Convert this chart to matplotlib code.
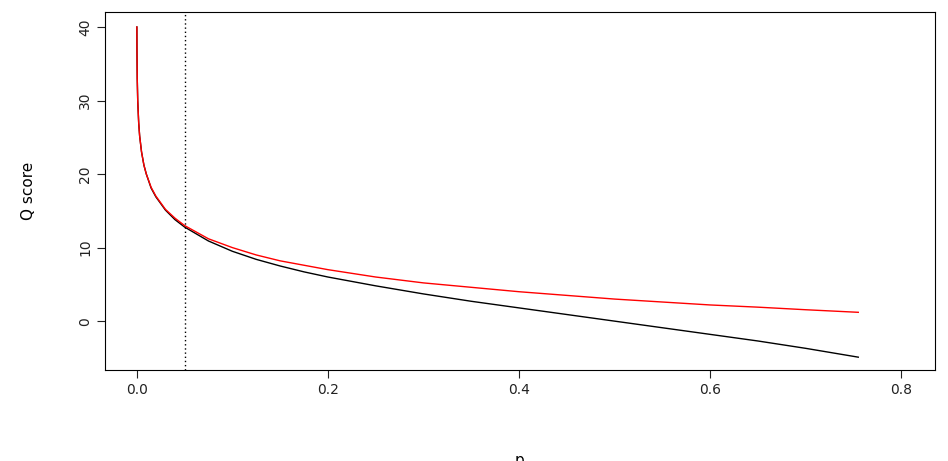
import matplotlib
matplotlib.use("Agg")
import matplotlib.pyplot as plt

p = [0.0001, 0.0002, 0.0005, 0.001, 0.002, 0.003, 0.005, 0.0075, 0.01, 0.015, 0.02, 0.03, 0.04, 0.05, 0.075,
     0.1, 0.125, 0.15, 0.175, 0.2, 0.25, 0.3, 0.35, 0.4, 0.45, 0.5, 0.55, 0.6, 0.65, 0.7, 0.755]
q_red = [40, 37, 33, 30, 27, 25.2, 23, 21.2, 20, 18.2, 17, 15.2, 14, 13, 11.2,
         10, 9.0, 8.2, 7.6, 7, 6, 5.2, 4.6, 4, 3.5, 3, 2.6, 2.2, 1.9, 1.55, 1.2]
q_black = [40, 37, 33, 30, 27, 25.2, 23, 21.2, 20, 18.1, 16.9, 15.1, 13.8, 12.8, 10.9,
           9.5, 8.4, 7.5, 6.7, 6, 4.8, 3.7, 2.7, 1.8, 0.9, 0, -0.9, -1.8, -2.7, -3.7, -4.9]
threshold = 0.05

fig = plt.figure(figsize=(9.48, 4.61), dpi=100)
ax = fig.add_axes([0.111, 0.197, 0.875, 0.777])
ax.plot(p, q_black, color="black", lw=1)
ax.plot(p, q_red, color="red", lw=1)
ax.axvline(threshold, color="black", lw=1, linestyle=(0, (1, 2)))
ax.set_xlim(-0.033, 0.835)
ax.set_ylim(-6.67, 42.04)
ax.set_xticks([0, 0.2, 0.4, 0.6, 0.8])
ax.set_xticklabels(["0.0", "0.2", "0.4", "0.6", "0.8"])
ax.set_yticks([0, 10, 20, 30, 40])
for lbl in ax.get_yticklabels():
    lbl.set_rotation(90)
    lbl.set_va("center")
ax.tick_params(labelsize=10, colors="#222222", length=6)
ax.set_xlabel("p", fontsize=11, labelpad=40)
ax.set_ylabel("Q score", fontsize=11, labelpad=30)
fig.savefig("out.png")
